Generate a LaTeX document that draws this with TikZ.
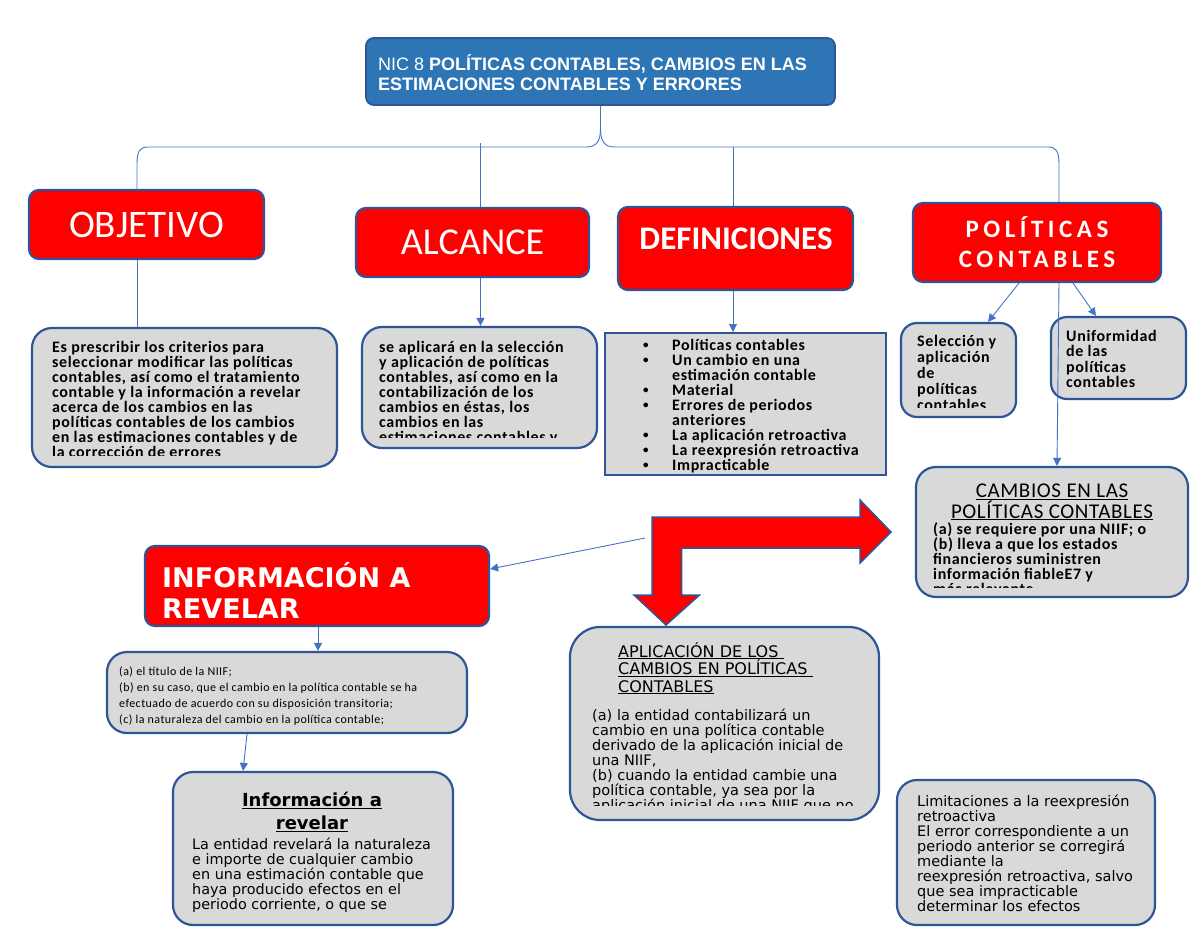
\documentclass[tikz,border=0pt]{standalone}
\usepackage{fontspec}
\setmainfont{Carlito}
\newfontfamily\arialfont{Liberation Sans}
\newfontfamily\verdfont{DejaVu Sans}
\newfontfamily\spacedfont{Carlito}[LetterSpace=18]
\newfontfamily\bodyfont{Carlito}[LetterSpace=4]
\newfontfamily\camfont{Carlito}[LetterSpace=3]
\newfontfamily\listfont{Carlito}[LetterSpace=3.7]
\usetikzlibrary{arrows.meta,positioning}
\definecolor{nicblue}{RGB}{46,117,182}
\definecolor{edgeblue}{RGB}{47,85,151}
\definecolor{linkblue}{RGB}{68,114,196}
\definecolor{boxgray}{RGB}{217,217,217}
\definecolor{nicred}{RGB}{255,0,0}
\newcommand{\fs}[2]{\fontsize{#1}{#2}\selectfont}
\newcommand{\bul}{\makebox[29pt][l]{\raisebox{1.5pt}{\fs{11}{11}•}}}
\begin{document}
\begin{tikzpicture}[x=1pt,y=-1pt,
    redbox/.style={draw=edgeblue,line width=2.2pt,fill=nicred,rounded corners=10pt,inner sep=0pt,text=white},
    graybox/.style={draw=edgeblue,line width=2.2pt,fill=boxgray,rounded corners=20pt,inner sep=0pt},
    body/.style={inner sep=0pt,anchor=north west,align=left},
    link/.style={draw=linkblue,line width=0.9pt},
    linkarrow/.style={link,-{Triangle[length=8pt,width=8pt]}}]
    \path[fill=white,use as bounding box] (0,0) rectangle (1200,927);
        %% Title
        \node[draw=edgeblue,line width=1.8pt,fill=nicblue,rounded corners=8pt,minimum width=469pt,minimum height=67pt] (nic) at (600.5,71.5) {};
        \node[body,text=white,font=\arialfont\fs{18}{20}] (nictxt) at (378,54.5) {NIC 8 \textbf{POLÍTICAS CONTABLES, CAMBIOS EN LAS}\\\textbf{ESTIMACIONES CONTABLES Y ERRORES}};
        %% Red headings
        \node[redbox,minimum width=235pt,minimum height=69pt,font=\fs{39}{40}] (obj) at (146.5,224.5) {OBJETIVO};
        \node[redbox,minimum width=233pt,minimum height=69pt,font=\fs{38}{40}] (alc) at (472.5,242.5) {ALCANCE};
        \node[redbox,minimum width=235pt,minimum height=83pt] (def) at (735.5,248.5) {};
            \node[text=white,font=\fs{33}{35}\bfseries] (deftxt) at (736,239) {DEFINICIONES};
        \node[redbox,minimum width=248pt,minimum height=79pt,align=center,font=\spacedfont\fs{25}{30}\bfseries] (pol) at (1037,242.5) {POLÍTICAS\\CONTABLES};
        %% Brace from title
        \draw[link] (nic.south) -- (600.5,128) .. controls (600.5,141) and (597,147) .. (586,147) -- (148,147)
            .. controls (140,147) and (137,151) .. (137,164) -- ([xshift=-9.5pt]obj.north);
        \draw[link] (600.5,128) .. controls (600.5,141) and (604,147) .. (615,147) -- (1048,147)
            .. controls (1056,147) and (1059,151) .. (1059,164) -- ([xshift=22pt]pol.north);
        \draw[link] (480.5,143) -- ([xshift=8pt]alc.north);
        \draw[link] (733,147) -- ([xshift=-2.5pt]def.north);
        %% Objetivo
        \node[graybox,minimum width=305pt,minimum height=139pt] (objbox) at (184.5,397.5) {};
        \begin{scope}
            \clip (40,335) rectangle (330,455);
            \node[body,font=\bodyfont\fs{16}{15}\bfseries] (objtxt) at (52,341) {Es prescribir los criterios para\\seleccionar modificar las políticas\\contables, así como el tratamiento\\contable y la información a revelar\\acerca de los cambios en las\\políticas contables de los cambios\\en las estimaciones contables y de\\la corrección de errores};
        \end{scope}
        \draw[link] ([xshift=-9.5pt]obj.south) -- ([xshift=-47.5pt]objbox.north);
        %% Alcance
        \node[graybox,minimum width=235pt,minimum height=121pt] (alcbox) at (479.5,387.5) {};
        \begin{scope}
            \clip (370,333) rectangle (590,437);
            \node[body,font=\bodyfont\fs{16}{15}\bfseries] (alctxt) at (379,341) {se aplicará en la selección\\y aplicación de políticas\\contables, así como en la\\contabilización de los\\cambios en éstas, los\\cambios en las\\estimaciones contables y};
        \end{scope}
        \draw[linkarrow] ([xshift=8pt]alc.south) -- ([xshift=1pt]alcbox.north);
        %% Definiciones
        \node[draw=edgeblue,line width=2pt,fill=boxgray,minimum width=281pt,minimum height=142pt] (defbox) at (745.5,404) {};
        \begin{scope}
            \clip (610,336) rectangle (880,472);
            \node[body,font=\bodyfont\fs{16}{15}\bfseries] (deftxt2) at (643,339) {\bul Políticas contables\\\bul Un cambio en una\\\hspace*{29pt}estimación contable\\\bul Material\\\bul Errores de periodos\\\hspace*{29pt}anteriores\\\bul La aplicación retroactiva\\\bul La reexpresión retroactiva\\\bul Impracticable};
        \end{scope}
        \draw[linkarrow] ([xshift=-2.5pt]def.south) -- ([xshift=-12.5pt]defbox.north);
        %% Politicas contables
        \node[graybox,rounded corners=16pt,minimum width=115pt,minimum height=94pt] (selbox) at (958.5,370) {};
        \begin{scope}
            \clip (905,328) rectangle (1012,407);
            \node[body,font=\bodyfont\fs{16}{16}\bfseries] (seltxt) at (917,335) {Selección y\\aplicación\\de\\políticas\\contables};
        \end{scope}
        \node[graybox,rounded corners=16pt,minimum width=135pt,minimum height=82pt] (unibox) at (1118.5,358) {};
        \node[body,font=\bodyfont\fs{16}{15.3}\bfseries] (unitxt) at (1066,330) {Uniformidad\\de las\\políticas\\contables};
        \draw[linkarrow] ([xshift=-18pt]pol.south) -- ([xshift=29.5pt]selbox.north);
        \draw[linkarrow] ([xshift=36pt]pol.south) -- ([xshift=-22.5pt]unibox.north);
        %% Cambios en las politicas
        \node[graybox,minimum width=272pt,minimum height=130pt] (cambox) at (1052,532) {};
        \node[align=center,inner sep=0pt,font=\camfont\fs{21}{17.5}] (camtitle) at (1052,502) {\underline{CAMBIOS EN LAS}\\\underline{POLÍTICAS CONTABLES}};
        \begin{scope}
            \clip (925,520) rectangle (1180,587);
            \node[body,font=\bodyfont\fs{16}{15}\bfseries] (camtxt) at (933,522) {(a) se requiere por una NIIF; o\\(b) lleva a que los estados\\financieros suministren\\información fiableE7 y\\ más relevante};
        \end{scope}
        \draw[linkarrow] ([xshift=22pt]pol.south) -- ([xshift=5pt]cambox.north);
        %% Red bent arrow
        \draw[edgeblue,line width=1.5pt,fill=nicred,line join=miter] (652,595) -- (652,517) -- (860,517) -- (860,500) -- (891,532)
            -- (860,563) -- (860,548) -- (681.5,548) -- (681.5,595) -- (699.5,595) -- (666,625) -- (634,595) -- cycle;
        %% Informacion a revelar
        \node[redbox,minimum width=344pt,minimum height=80pt] (info) at (317,586) {};
            \node[body,text=white,font=\verdfont\fs{27}{31}\bfseries] (infotxt) at (162,562) {INFORMACIÓN A\\REVELAR};
        \coordinate (arrowtail) at (645,538);
        \draw[linkarrow] (arrowtail) -- (info.east |- 0,569);
        \node[graybox,minimum width=360pt,minimum height=81pt] (infolist) at (287,692.5) {};
        \node[body,font=\listfont\fs{12}{16}] (infolisttxt) at (119,667) {(a) el título de la NIIF;\\(b) en su caso, que el cambio en la política contable se ha\\efectuado de acuerdo con su disposición transitoria;\\(c) la naturaleza del cambio en la política contable;};
        \draw[linkarrow] ([xshift=1pt]info.south) -- ([xshift=31pt]infolist.north);
        \node[graybox,minimum width=280pt,minimum height=153pt] (infobot) at (313,848.5) {};
        \node[align=center,inner sep=0pt,font=\verdfont\fs{18}{23}\bfseries] (infobottitle) at (312,812) {\underline{Información a}\\\underline{revelar}};
        \node[body,font=\verdfont\fs{14.4}{15}] (infobottxt) at (192,838) {La entidad revelará la naturaleza\\e importe de cualquier cambio\\en una estimación contable que\\haya producido efectos en el\\periodo corriente, o que se};
        \draw[linkarrow] ([xshift=-40pt]infolist.south) -- ([xshift=-70pt]infobot.north);
        %% Aplicacion de los cambios
        \node[graybox,rounded corners=30pt,minimum width=309pt,minimum height=193pt] (aplbox) at (724.5,723.5) {};
        \node[body,font=\verdfont\fs{16}{17.5}] (apltitle) at (618,642) {\underline{APLICACIÓN DE LOS\ }\\\underline{CAMBIOS EN POLÍTICAS\ }\\\underline{CONTABLES}};
        \begin{scope}
            \clip (580,700) rectangle (870,805);
            \node[body,font=\verdfont\fs{14.5}{15}] (apltxt) at (592,709) {(a) la entidad contabilizará un\\cambio en una política contable\\derivado de la aplicación inicial de\\una NIIF,\\(b) cuando la entidad cambie una\\política contable, ya sea por la\\aplicación inicial de una NIIF que no};
        \end{scope}
        %% Limitaciones
        \node[graybox,minimum width=258pt,minimum height=145pt] (limbox) at (1026,852.5) {};
        \node[body,font=\verdfont\fs{14.5}{15}] (limtxt) at (917,795) {Limitaciones a la reexpresión\\retroactiva\\El error correspondiente a un\\periodo anterior se corregirá\\mediante la\\reexpresión retroactiva, salvo\\que sea impracticable\\determinar los efectos};
    \end{tikzpicture}
\end{document}
